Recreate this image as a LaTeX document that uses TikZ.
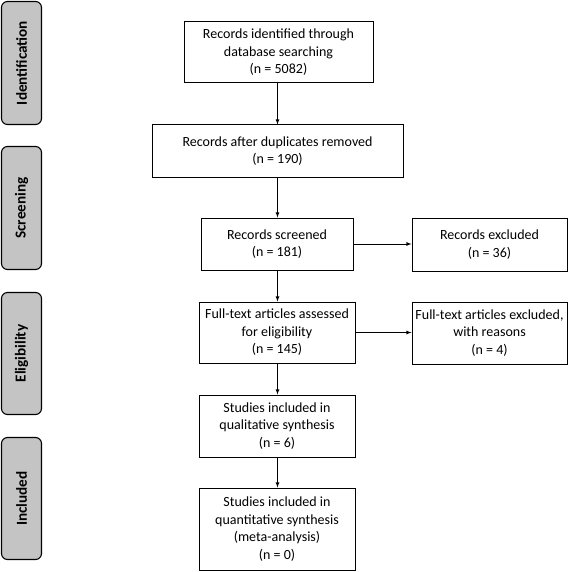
\documentclass[tikz,border=0pt]{standalone}
\usepackage{fontspec}
\setmainfont{Carlito}
\usepackage{tikz}
\usetikzlibrary{arrows}

\begin{document}
\begin{tikzpicture}[x=1pt,y=-1pt]
\tikzstyle{phase} = [draw, line width=1.1pt, fill=black!23, rounded corners=6pt, rotate=90, font=\fontsize{15.2}{17}\selectfont\bfseries, minimum height=40pt, inner sep=0pt]
\tikzstyle{box} = [draw, line width=1pt, fill=white, align=center, font=\fontsize{14}{17.5}\selectfont, inner sep=0pt]
\tikzstyle{flow} = [-latex, line width=0.8pt]
\useasboundingbox (0,0) rectangle (568,572);
% phases on the left
\node[phase, minimum width=123pt](ident) at (21.5,63){Identification};
\node[phase, minimum width=123pt](scrn) at (21.5,208){Screening};
\node[phase, minimum width=122pt](elig) at (21.5,353.5){Eligibility};
\node[phase, minimum width=122pt](incl) at (21.5,498.5){Included};
% main column
\node[box, minimum width=189pt, minimum height=61pt](found) at (278.5,52.5){Records identified through\\database searching\\(n = 5082)};
\node[box, minimum width=251pt, minimum height=52pt](dedup) at (277.5,151){Records after duplicates removed\\(n = 190)};
\node[box, minimum width=152pt, minimum height=52pt](screened) at (277,244){Records screened\\(n = 181)};
\node[box, minimum width=156pt, minimum height=61pt](fulltext) at (277,332.5){Full-text articles assessed\\for eligibility\\(n = 145)};
\node[box, minimum width=156pt, minimum height=62pt](qual) at (277,426){Studies included in\\qualitative synthesis\\(n = 6)};
\node[box, minimum width=156pt, minimum height=82pt](quant) at (277,529){Studies included in\\quantitative synthesis\\(meta-analysis)\\(n = 0)};
% exclusions on the right
\node[box, minimum width=155pt, minimum height=53pt](excl) at (489.5,244.5){Records excluded\\(n = 36)};
\node[box, minimum width=155pt, minimum height=62pt](ftexcl) at (489.5,333){Full-text articles excluded,\\with reasons\\(n = 4)};

\draw[flow](found.south -| dedup) -- (dedup.north);
\draw[flow](dedup.south) -- (screened.north -| dedup);
\draw[flow](screened.south -| dedup) -- (fulltext.north -| dedup);
\draw[flow](fulltext.south -| dedup) -- (qual.north -| dedup);
\draw[flow](qual.south -| dedup) -- (quant.north -| dedup);
\draw[flow](screened.east) -- (excl.west |- screened.east);
\draw[flow](fulltext.east) -- (ftexcl.west |- fulltext.east);
\end{tikzpicture}
\end{document}
